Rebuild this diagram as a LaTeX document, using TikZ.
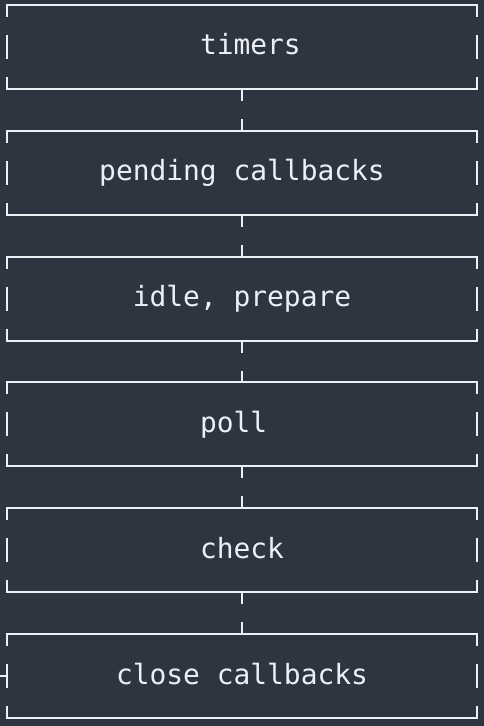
\documentclass[tikz,border=0pt]{standalone}
\usepackage{fontspec}
\setmonofont{DejaVu Sans Mono}
\usetikzlibrary{calc,positioning}
\definecolor{bg}{RGB}{46,52,64}
\definecolor{snow}{RGB}{236,239,244}

\begin{document}
\begin{tikzpicture}[x=1pt,y=-1pt,line width=2pt,
  phase/.style={minimum width=470pt,minimum height=83.88pt,inner sep=0pt,outer sep=0pt},
  rule/.style={draw=snow,line cap=rect},
  gaps/.style={draw=snow,dash pattern=on 24pt off 18pt,dash phase=12pt},
  phasetext/.style={anchor=base,inner sep=0pt,text=snow,font=\ttfamily\fontsize{27.9}{30}\selectfont}]

\fill[bg] (0,0) rectangle (484,726);
\useasboundingbox (0,0) rectangle (484,726);

%% the six phases
\node[phase] (timers) at (242,46.94) {};
\node[phase,below=41.94pt of timers] (pending) {};
\node[phase,below=41.94pt of pending] (idle) {};
\node[phase,below=41.94pt of idle] (poll) {};
\node[phase,below=41.94pt of poll] (check) {};
\node[phase,below=41.94pt of check] (close) {};

%% frames
\foreach \p in {timers,pending,idle,poll,check,close}{
	\draw[rule] (\p.north west) -- (\p.north east);
	\draw[rule] (\p.south west) -- (\p.south east);
	\draw[gaps] (\p.north west) -- (\p.south west);
	\draw[gaps] (\p.north east) -- (\p.south east);
}

%% labels
\foreach \p/\txt/\dx in {timers/timers/0.5,pending/pending callbacks/0,idle/{idle, prepare}/0,poll/poll/-0.5,check/check/0,close/close callbacks/0}{
	\node[phasetext] (\p-text) at ($(\p)+(\dx*16.8,8)$) {\txt};
}

%% links
\foreach \a/\b in {timers/pending,pending/idle,idle/poll,poll/check,check/close}{
	\draw[gaps] (\a.south) -- (\b.north);
}

%% loop back
\coordinate (loop) at (0,0 |- close.west);
\draw[rule] (loop) -- (close.west);

\end{tikzpicture}
\end{document}
